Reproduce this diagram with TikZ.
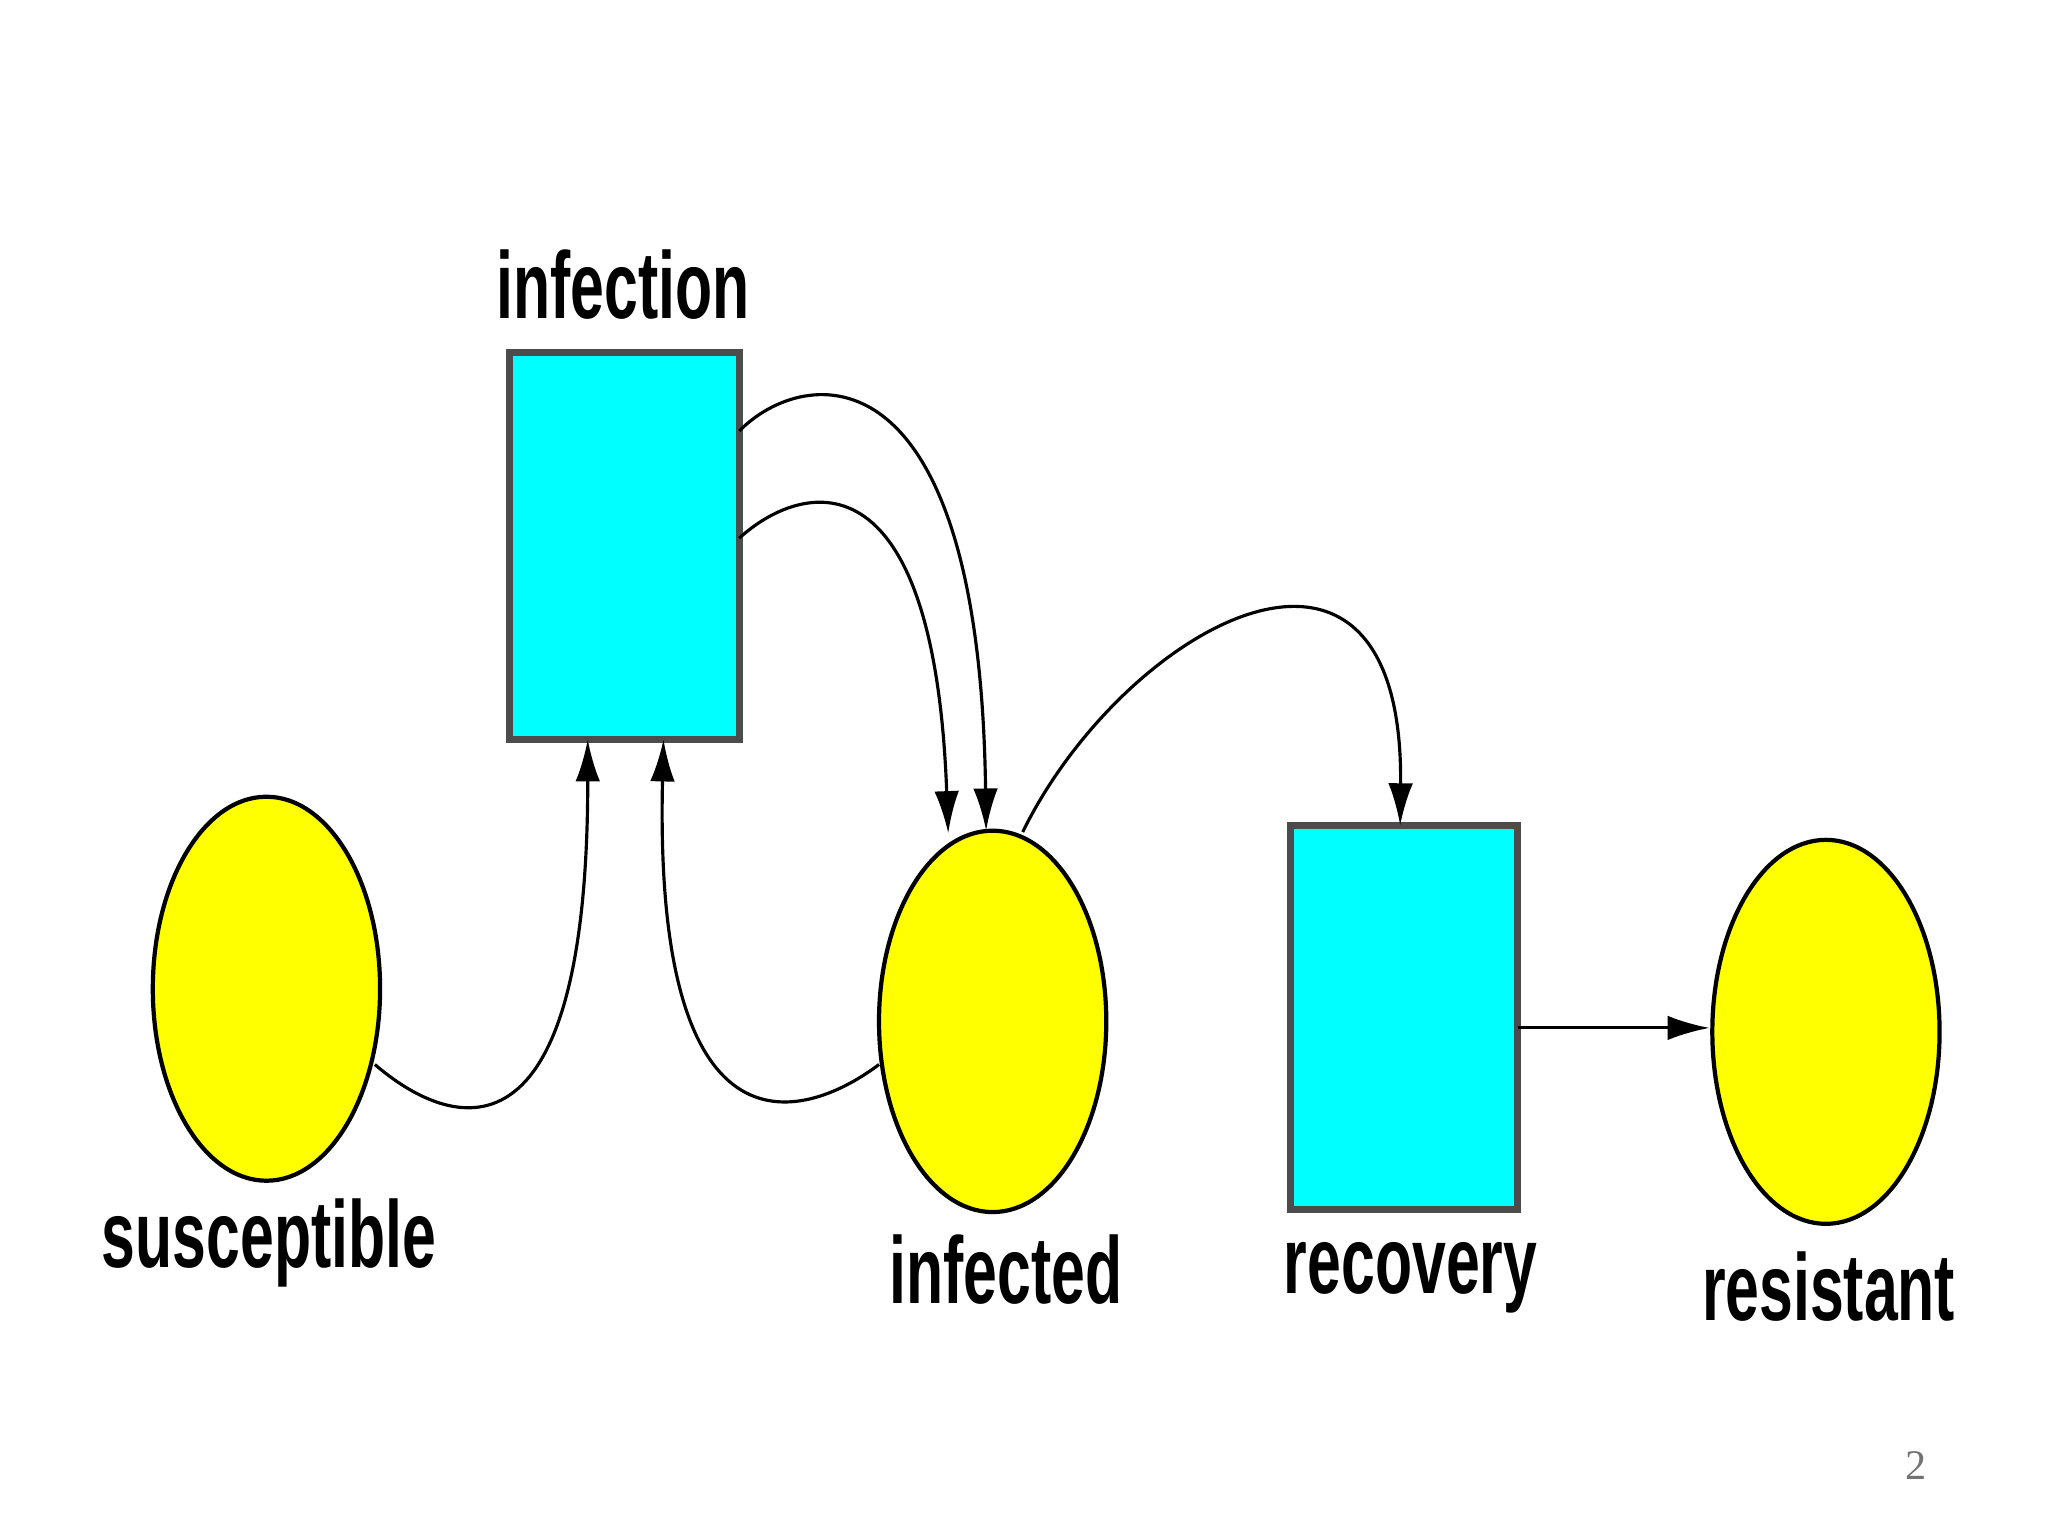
\documentclass[tikz,border=0pt]{standalone}
\usepackage{fontspec}
\setmainfont{Liberation Sans}
\newfontfamily\pgfont{Liberation Serif}
\usetikzlibrary{arrows.meta}
\definecolor{boxcyan}{RGB}{0,255,255}
\definecolor{circyel}{RGB}{255,255,0}
\begin{document}
\begin{tikzpicture}[x=0.013061cm,y=-0.013061cm,
  circ/.style={draw=black,fill=circyel,line width=1.2pt},
  boxx/.style={draw=black!70,fill=boxcyan,line width=2pt},
  lbl/.style={font=\fontsize{27}{30}\selectfont\bfseries},
  arr/.style={-{Latex[length=12pt,width=7pt]},line width=0.9pt}]
\path[use as bounding box,fill=white] (0,0) rectangle (1568,1176);
\newcommand{\sq}[1]{\scalebox{0.64}[1]{#1}}
\draw[boxx] (390,270) rectangle (566,566);
\coordinate (infB1) at (450,566);
\coordinate (infB2) at (508,566);
\coordinate (infR1) at (566,330);
\coordinate (infR2) at (566,412);
\node[lbl] (tinf) at (477,218) {\sq{infection}};
\draw[circ] (204,757) ellipse [x radius=87,y radius=147];
\coordinate (susR) at (287,815);
\node[lbl] (tsus) at (206,952) {\sq{susceptible}};
\draw[circ] (760,782) ellipse [x radius=87,y radius=146];
\coordinate (ifL) at (673,815);
\coordinate (ifT1) at (726,638);
\coordinate (ifT2) at (755,636);
\coordinate (ifTR) at (783,637);
\node[lbl] (tifd) at (770,972) {\sq{infected}};
\draw[boxx] (988,632) rectangle (1162,926);
\coordinate (recT) at (1072,632);
\coordinate (recR) at (1162,787);
\node[lbl] (trec) at (1080,978) {\sq{recovery}};
\draw[circ] (1398,790) ellipse [x radius=87,y radius=147];
\coordinate (resL) at (1309,787);
\node[lbl] (tres) at (1400,985) {\sq{resistant}};
\draw[arr] (susR) .. controls (345,865) and (450,900) .. (infB1);
\draw[arr] (ifL) .. controls (620,855) and (500,900) .. (infB2);
\draw[arr] (infR1) .. controls (615,280) and (750,260) .. (ifT2);
\draw[arr] (infR2) .. controls (612,370) and (715,340) .. (ifT1);
\draw[arr] (ifTR) .. controls (860,480) and (1075,360) .. (recT);
\draw[arr] (recR) -- (resL);
\node[text=black!55,font=\fontsize{12}{14}\selectfont\pgfont] (pg) at (1467,1122) {2};
\end{tikzpicture}
\end{document}
